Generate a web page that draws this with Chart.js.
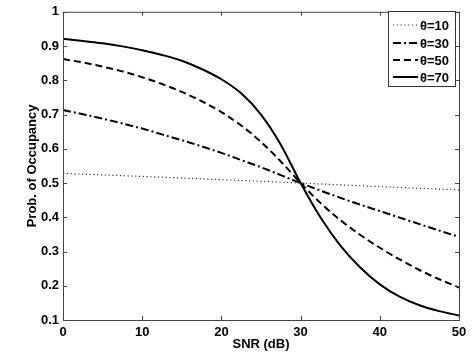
<!DOCTYPE html>
<html>
<head>
<meta charset="utf-8">
<script src="https://cdn.jsdelivr.net/npm/chart.js@4"></script>
<style>
  body { margin: 0; background: #fff; }
  canvas { display: block; }
</style>
</head>
<body>
<canvas id="occ" width="474" height="361"></canvas>
<script>
// values
const snr = [0, 2.5, 5, 7.5, 10, 12.5, 15, 17.5, 20, 22.5, 25, 27.5, 30, 32.5, 35, 37.5, 40, 42.5, 45, 47.5, 50];
const theta70 = [0.921, 0.915, 0.908, 0.899, 0.888, 0.874, 0.857, 0.833, 0.803, 0.762, 0.700, 0.612, 0.50, 0.400, 0.318, 0.254, 0.204, 0.168, 0.143, 0.126, 0.113];
const theta50 = [0.862, 0.852, 0.840, 0.826, 0.809, 0.789, 0.766, 0.739, 0.707, 0.668, 0.620, 0.563, 0.50, 0.442, 0.392, 0.349, 0.311, 0.277, 0.246, 0.219, 0.195];
const theta30 = [0.713, 0.701, 0.688, 0.674, 0.659, 0.642, 0.625, 0.607, 0.588, 0.567, 0.546, 0.523, 0.50, 0.478, 0.457, 0.437, 0.418, 0.399, 0.380, 0.361, 0.343];
const snrTheta10 = [0, 12.5, 25, 30, 37.5, 50];
const theta10 = [0.528, 0.517, 0.505, 0.50, 0.492, 0.480];
const legendLabels = ['θ=10', 'θ=30', 'θ=50', 'θ=70'];

const FONT = 'Liberation Sans, Arial, Helvetica, sans-serif';

const toPoints = (xs, ys) => xs.map((x, i) => ({ x, y: ys[i] }));

const series = [
  { label: legendLabels[0], data: toPoints(snrTheta10, theta10), borderColor: '#333', borderWidth: 1.2, borderDash: [1.2, 2.6] },
  { label: legendLabels[1], data: toPoints(snr, theta30), borderColor: '#000', borderWidth: 2, borderDash: [8, 3, 2, 3] },
  { label: legendLabels[2], data: toPoints(snr, theta50), borderColor: '#000', borderWidth: 2, borderDash: [7, 4] },
  { label: legendLabels[3], data: toPoints(snr, theta70), borderColor: '#000', borderWidth: 2, borderDash: [] },
];

// matlab style box with inward ticks + legend box
const frame = {
  id: 'frame',
  afterDraw(chart) {
    const { ctx, chartArea: a, scales } = chart;
    ctx.save();
    ctx.strokeStyle = '#444';
    ctx.lineWidth = 1;
    ctx.strokeRect(a.left + 0.5, a.top + 0.5, a.right - a.left, a.bottom - a.top);
    ctx.beginPath();
    scales.x.ticks.forEach(t => {
      const px = Math.round(scales.x.getPixelForValue(t.value)) + 0.5;
      ctx.moveTo(px, a.bottom); ctx.lineTo(px, a.bottom - 4);
      ctx.moveTo(px, a.top); ctx.lineTo(px, a.top + 4);
    });
    scales.y.ticks.forEach(t => {
      const py = Math.round(scales.y.getPixelForValue(t.value)) + 0.5;
      ctx.moveTo(a.left, py); ctx.lineTo(a.left + 4, py);
      ctx.moveTo(a.right, py); ctx.lineTo(a.right - 4, py);
    });
    ctx.stroke();

    // legend
    const bx = 388, by = 11, bw = 67, bh = 75;
    ctx.fillStyle = '#fff';
    ctx.fillRect(bx, by, bw, bh);
    ctx.strokeStyle = '#333';
    ctx.strokeRect(bx + 0.5, by + 0.5, bw, bh);
    const rows = [25, 43, 60, 77];
    chart.data.datasets.forEach((ds, i) => {
      ctx.beginPath();
      ctx.strokeStyle = ds.borderColor;
      ctx.lineWidth = ds.borderWidth;
      ctx.setLineDash(ds.borderDash);
      ctx.moveTo(393, rows[i]); ctx.lineTo(418, rows[i]);
      ctx.stroke();
      ctx.setLineDash([]);
      ctx.fillStyle = '#000';
      ctx.font = 'bold 13px ' + FONT;
      ctx.textBaseline = 'middle';
      ctx.fillText(ds.label, 420, rows[i] + 1);
    });
    ctx.restore();
  }
};

new Chart(document.getElementById('occ'), {
  type: 'line',
  data: {
    datasets: series.map(s => ({
      ...s,
      fill: false,
      pointRadius: 0,
      cubicInterpolationMode: 'monotone',
    }))
  },
  options: {
    responsive: false,
    animation: false,
    layout: { padding: { left: 0, right: 15, top: 10, bottom: 0 } },
    plugins: { legend: { display: false }, tooltip: { enabled: false } },
    scales: {
      x: {
        type: 'linear',
        min: 0, max: 50,
        grid: { display: false, drawTicks: false },
        border: { display: false },
        ticks: { stepSize: 10, padding: 5, color: '#000', font: { family: FONT, size: 13, weight: 'bold' } },
        title: { display: true, text: 'SNR (dB)', color: '#000', padding: { top: 0, bottom: 9 }, font: { family: FONT, size: 13, weight: 'bold' } },
        afterFit(scale) { scale.height = 41; }
      },
      y: {
        min: 0.1, max: 1,
        grid: { display: false, drawTicks: false },
        border: { display: false },
        ticks: {
          stepSize: 0.1, padding: 4, color: '#000',
          font: { family: FONT, size: 13, weight: 'bold' },
          callback: v => String(+v.toFixed(1))
        },
        title: { display: true, text: 'Prob. of Occupancy', color: '#000', padding: { top: 25, bottom: 0 }, font: { family: FONT, size: 13, weight: 'bold' } },
        afterFit(scale) { scale.width = 63; }
      }
    }
  },
  plugins: [frame]
});
</script>
</body>
</html>
